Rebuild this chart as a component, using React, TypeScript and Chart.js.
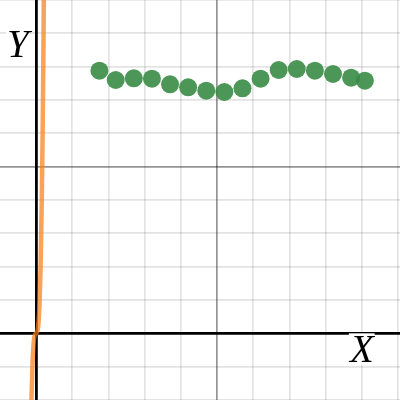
import React, { useEffect, useRef } from "react";
import { Chart, registerables } from "chart.js";

Chart.register(...registerables);

// Green scatter points
const pointX = [1.75, 2.2, 2.7, 3.2, 3.7, 4.2, 4.7, 5.2, 5.7, 6.2, 6.7, 7.2, 7.7, 8.2, 8.7, 9.08];
const pointY = [7.88, 7.6, 7.65, 7.64, 7.47, 7.38, 7.28, 7.24, 7.35, 7.64, 7.9, 7.93, 7.88, 7.78, 7.67, 7.58];

// Orange curve
const curveX = [-0.13, -0.126, -0.1, -0.079, -0.05, 0, 0.05, 0.079, 0.1, 0.126, 0.159, 0.182, 0.2, 0.215, 0.222];
const curveY = [-2.2, -2, -1, -0.5, -0.125, 0, 0.125, 0.5, 1, 2, 4, 6, 8, 10, 10.9];

const xMin = -0.995;
const xMax = 10.05;
const yMin = -2;
const yMax = 10;

const xLabel = "X";
const yLabel = "Y";

const gridColor = (v: number) =>
  v === 0 ? "#000000" : v === 5 ? "rgba(0,0,0,0.42)" : "rgba(0,0,0,0.11)";
const gridWidth = (v: number) => (v === 0 ? 2.8 : 1.7);

const labelPlugin = {
  id: "axisLabels",
  afterDatasetsDraw(chart: any) {
    const ctx = chart.ctx;
    const xs = chart.scales.x;
    const ys = chart.scales.y;
    ctx.save();
    ctx.font = "italic 39px 'Liberation Serif', 'Times New Roman', serif";
    ctx.textAlign = "center";
    ctx.textBaseline = "alphabetic";
    const draw = (text: string, cx: number, base: number) => {
      const w = ctx.measureText(text).width;
      ctx.fillStyle = "#ffffff";
      ctx.fillRect(cx - w / 2 - 1, base - 29, w + 2, 31);
      ctx.fillStyle = "#000000";
      ctx.fillText(text, cx, base);
    };
    draw(yLabel, xs.getPixelForValue(-0.5), ys.getPixelForValue(8.28));
    draw(xLabel, xs.getPixelForValue(8.995), ys.getPixelForValue(-0.87));
    ctx.restore();
  },
};

const gridOpts = {
  drawTicks: false,
  color: (c: any) => gridColor(c.tick ? c.tick.value : 1),
  lineWidth: (c: any) => gridWidth(c.tick ? c.tick.value : 1),
};

export default function App() {
  const ref = useRef<HTMLCanvasElement>(null);
  useEffect(() => {
    if (!ref.current) return;
    const chart = new Chart(ref.current, {
      type: "scatter",
      data: {
        datasets: [
          {
            data: curveX.map((x, i) => ({ x, y: curveY[i] })),
            showLine: true,
            borderColor: "rgba(250,126,25,0.72)",
            borderWidth: 4.5,
            pointRadius: 0,
            cubicInterpolationMode: "monotone",
            fill: false,
          },
          {
            data: pointX.map((x, i) => ({ x, y: pointY[i] })),
            backgroundColor: "rgba(56,140,70,0.9)",
            borderWidth: 0,
            pointRadius: 9,
            pointHoverRadius: 9,
          },
        ],
      },
      options: {
        animation: false,
        responsive: true,
        maintainAspectRatio: false,
        layout: { padding: 0, autoPadding: false },
        plugins: { legend: { display: false }, tooltip: { enabled: false } },
        scales: {
          x: {
            type: "linear",
            min: xMin,
            max: xMax,
            border: { display: false },
            ticks: { display: false, stepSize: 1, includeBounds: false, padding: 0 },
            grid: gridOpts,
            afterFit: (s: any) => {
              s.height = 0;
            },
          },
          y: {
            type: "linear",
            min: yMin,
            max: yMax,
            border: { display: false },
            ticks: { display: false, stepSize: 1, includeBounds: false, padding: 0 },
            grid: gridOpts,
            afterFit: (s: any) => {
              s.width = 0;
            },
          },
        },
      },
      plugins: [labelPlugin],
    } as any);
    return () => chart.destroy();
  }, []);
  return (
    <div style={{ position: "fixed", left: 0, top: 0, width: 400, height: 400, background: "#fff" }}>
      <canvas ref={ref} />
    </div>
  );
}
